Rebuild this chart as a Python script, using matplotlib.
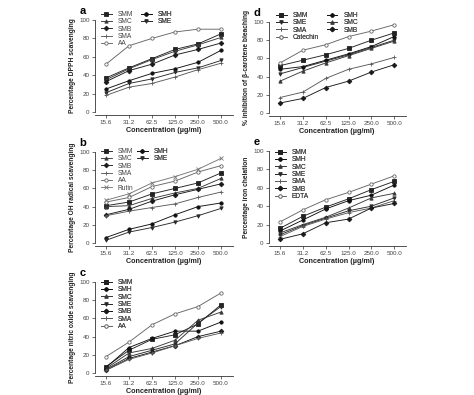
import matplotlib
matplotlib.use("Agg")
import matplotlib.pyplot as plt

plt.rcParams['font.family'] = ['Liberation Sans', 'DejaVu Sans']

conc_labels = ["15.6", "31.2", "62.5", "125.0", "250.0", "500.0"]

# a - DPPH scavenging
dpph = {
    "SMM": [37, 48, 58, 68, 74, 85],
    "SMH": [25, 34, 42, 47, 54, 67],
    "SMC": [35, 47, 57, 66, 73, 81],
    "SME": [21, 31, 36, 43, 48, 56],
    "SMB": [33, 45, 52, 62, 68, 75],
    "SMA": [18, 27, 31, 38, 46, 53],
    "AA": [52, 72, 80, 87, 90, 90],
}
# b - OH radical scavenging
oh = {
    "SMM": [41, 45, 54, 60, 66, 77],
    "SMH": [6, 15, 21, 31, 40, 44],
    "SMC": [40, 41, 49, 55, 60, 71],
    "SME": [3, 12, 17, 23, 30, 38],
    "SMB": [31, 37, 46, 53, 59, 65],
    "SMA": [30, 35, 39, 43, 50, 56],
    "AA": [45, 50, 62, 68, 78, 85],
    "Rutin": [47, 54, 66, 73, 81, 93],
}
# c - nitric oxide scavenging
no = {
    "SMM": [7, 25, 37, 42, 54, 75],
    "SMH": [6, 28, 38, 46, 46, 56],
    "SMC": [5, 22, 27, 36, 58, 67],
    "SME": [4, 18, 25, 32, 55, 73],
    "SMB": [3, 16, 23, 30, 40, 46],
    "SMA": [3, 15, 22, 30, 38, 44],
    "AA": [18, 34, 53, 65, 73, 88],
}
# d - beta-carotene bleaching
bcar = {
    "SMM": [52, 58, 64, 71, 80, 88],
    "SME": [43, 50, 57, 64, 72, 80],
    "SMA": [17, 23, 38, 48, 54, 61],
    "Catechin": [55, 69, 75, 84, 90, 97],
    "SMH": [48, 51, 58, 65, 73, 84],
    "SMC": [35, 46, 55, 63, 71, 79],
    "SMB": [11, 16, 28, 35, 45, 53],
}
# e - iron chelation
iron = {
    "SMM": [16, 29, 39, 48, 58, 67],
    "SMH": [13, 25, 37, 46, 52, 63],
    "SMC": [11, 20, 28, 38, 49, 54],
    "SME": [9, 19, 27, 35, 40, 49],
    "SMA": [7, 18, 26, 33, 38, 46],
    "SMB": [4, 10, 22, 26, 38, 43],
    "EDTA": [23, 36, 47, 55, 64, 73],
}

styles = {
    "SMM": dict(color="#222222", marker="s", mfc="#222222"),
    "SMH": dict(color="#111111", marker="o", mfc="#111111"),
    "SMC": dict(color="#3a3a3a", marker="^", mfc="#3a3a3a"),
    "SME": dict(color="#2a2a2a", marker="v", mfc="#2a2a2a"),
    "SMB": dict(color="#1a1a1a", marker="D", mfc="#1a1a1a"),
    "SMA": dict(color="#5a5a5a", marker="+", mfc="#5a5a5a"),
    "AA": dict(color="#666666", marker="o", mfc="white"),
    "Rutin": dict(color="#777777", marker="x", mfc="#777777"),
    "Catechin": dict(color="#666666", marker="o", mfc="white"),
    "EDTA": dict(color="#666666", marker="o", mfc="white"),
}

W, H = 474, 395
fig = plt.figure(figsize=(W / 100, H / 100), dpi=100)


def make_axes(left, top, bottom, width):
    return fig.add_axes([left / W, 1 - bottom / H, width / W, (bottom - top) / H])


def fig_pt(x, y):
    return (x / W, 1 - y / H)


def draw_panel(ax, data, ylabel, letter, legends):
    lines = {}
    for name, vals in data.items():
        st = styles[name]
        ln, = ax.plot(range(len(conc_labels)), vals, color=st["color"], marker=st["marker"],
                      markerfacecolor=st["mfc"], markeredgecolor=st["color"],
                      markersize=2.4, markeredgewidth=0.6, linewidth=0.65)
        lines[name] = ln
    ax.set_xlim(-0.5, 5.5)
    ax.set_ylim(0, 100)
    ax.set_yticks([0, 20, 40, 60, 80, 100])
    ax.set_xticks(range(len(conc_labels)))
    ax.set_xticklabels(conc_labels)
    for s in ["top", "right"]:
        ax.spines[s].set_visible(False)
    for s in ["left", "bottom"]:
        ax.spines[s].set_linewidth(0.6)
        ax.spines[s].set_color("#333333")
    ax.spines["bottom"].set_position(("outward", 2))
    ax.tick_params(labelsize=4.5, length=2, width=0.5, pad=1.5, colors="#333333", labelcolor="#444444")
    ax.set_ylabel(ylabel, fontsize=4.8, fontweight="bold", labelpad=2.5, color="#222222")
    ax.set_xlabel("Concentration (µg/ml)", fontsize=5.2, fontweight="bold", labelpad=1.5, color="#222222")
    pos = ax.get_position()
    fig.text(pos.x0 - 15 / W, pos.y1 + 9 / H, letter, fontsize=8, fontweight="bold", ha="left", va="center")
    for names, (x, y), ncol in legends:
        leg = ax.legend([lines[n] for n in names], names, loc="upper left",
                        bbox_to_anchor=fig_pt(x, y), bbox_transform=fig.transFigure,
                        ncol=ncol, fontsize=4.8, frameon=False, labelspacing=0.05,
                        handlelength=1.6, handletextpad=0.9, borderpad=0, borderaxespad=0,
                        columnspacing=1.2)
        for t in leg.get_texts():
            t.set_color("#444444")
        ax.add_artist(leg)


ax_a = make_axes(94.5, 20, 112, 138)
draw_panel(ax_a, dpph, "Percentage DPPH scavenging", "a",
           [(["SMM", "SMC", "SMB", "SMA", "AA"], (101, 11), 1),
            (["SMH", "SME"], (141, 11), 1)])

ax_b = make_axes(94.5, 152, 243, 138)
draw_panel(ax_b, oh, "Percentage OH radical scavenging", "b",
           [(["SMM", "SMC", "SMB", "SMA", "AA", "Rutin"], (101, 148), 1),
            (["SMH", "SME"], (137, 148), 1)])

ax_c = make_axes(94.5, 282, 373, 138)
draw_panel(ax_c, no, "Percentage nitric oxide scavenging", "c",
           [(["SMM", "SMH", "SMC", "SME", "SMB", "SMA", "AA"], (101, 279), 1)])

ax_d = make_axes(268.6, 22, 113, 137)
draw_panel(ax_d, bcar, "% inhibition of β-carotene bleaching", "d",
           [(["SMM", "SME", "SMA", "Catechin", "SMH", "SMC", "SMB"], (276, 12), 2)])

ax_e = make_axes(268.6, 151, 243, 137)
draw_panel(ax_e, iron, "Percentage iron chelation", "e",
           [(["SMM", "SMH", "SMC", "SME", "SMA", "SMB", "EDTA"], (275, 149), 1)])

fig.savefig("out.png", dpi=100)
